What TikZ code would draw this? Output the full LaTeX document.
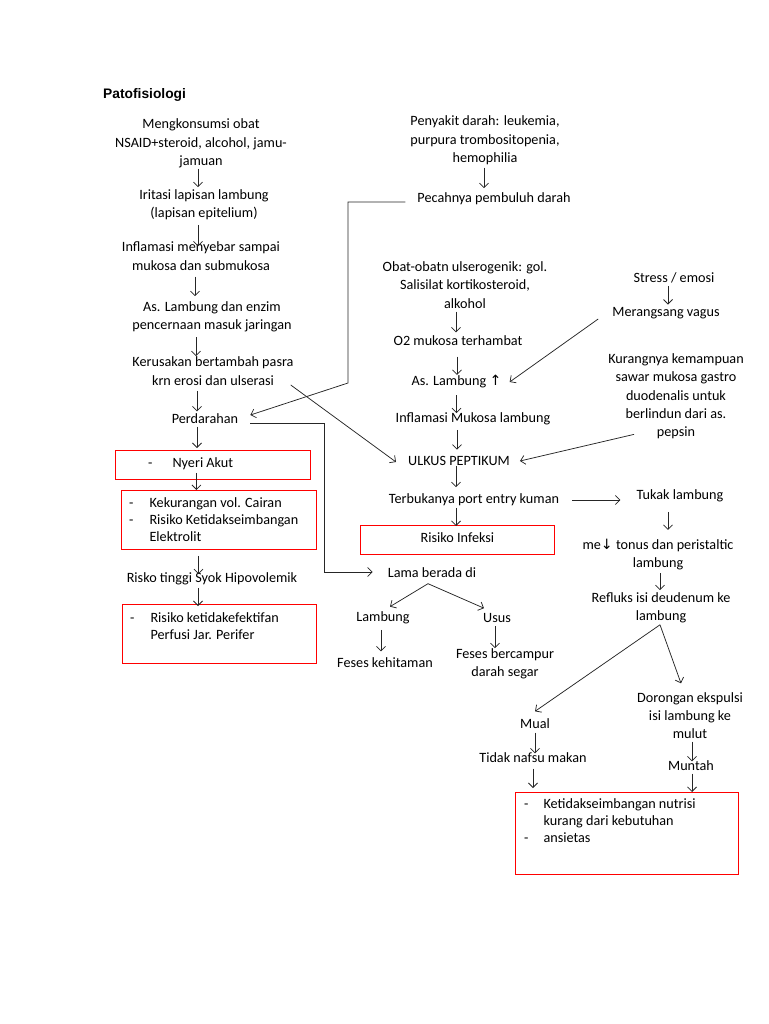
\documentclass[tikz,border=0pt]{standalone}
\usepackage{fontspec}
\setmainfont{Carlito}
\newfontfamily\titlefont{Liberation Sans}
\newfontfamily\arrowfont{DejaVu Sans}
\usepackage{tikz}
\usetikzlibrary{arrows.meta,positioning,calc}

\begin{document}
\begin{tikzpicture}[x=1pt,y=-1pt,
    txt/.style={align=center,inner sep=1pt,font=\fontsize{14.2}{18.3}\selectfont},
    boxtxt/.style={inner sep=0pt,font=\fontsize{14.2}{17}\selectfont},
    redbox/.style={draw=red,line width=0.9pt,inner sep=0pt},
    arr/.style={draw=black!85,line width=0.75pt,-{Straight Barb[length=4.5pt,width=9pt]}}]
    \useasboundingbox (0,0) rectangle (768,1024);
    \node[anchor=west,inner sep=0pt,font=\titlefont\bfseries\fontsize{13.8}{16}\selectfont] (judul) at (103,95) {Patofisiologi};
    % Left column
    \node[txt] (obat) at (201,143.5) {Mengkonsumsi obat\\NSAID+steroid, alcohol, jamu-\\jamuan};
    \node[txt] (iritasi) at (204,204.5) {Iritasi lapisan lambung\\(lapisan epitelium)};
    \node[txt] (inflam) at (201,256) {Inflamasi menyebar sampai\\mukosa dan submukosa};
    \node[txt] (asam) at (212,316.5) {As. Lambung dan enzim\\pencernaan masuk jaringan};
    \node[txt] (rusak) at (213,371) {Kerusakan bertambah pasra\\krn erosi dan ulserasi};
    \node[txt] (darah) at (205,419) {Perdarahan};
    \node[redbox,anchor=north west,minimum width=195pt,minimum height=29pt] (nyeri) at (115,450) {};
    \node[boxtxt,anchor=west] (nyerit) at ([xshift=33,yshift=0.5]nyeri.west)
        {\begin{tabular}{@{}l@{\hspace{20pt}}l@{}}-&Nyeri Akut\end{tabular}};
    \node[redbox,anchor=north west,minimum width=195pt,minimum height=59pt] (cairan) at (121,490) {};
    \node[boxtxt,anchor=north west] (cairant) at ([xshift=8,yshift=-5.5]cairan.north west)
        {\begin{tabular}{@{}l@{\hspace{16pt}}l@{}}-&Kekurangan vol. Cairan\\-&Risiko Ketidakseimbangan\\&Elektrolit\end{tabular}};
    \node[txt] (syok) at (212,579) {Risko tinggi Syok Hipovolemik};
    \node[redbox,anchor=north west,minimum width=194pt,minimum height=59pt] (perfusi) at (122,604) {};
    \node[boxtxt,anchor=north west] (perfusit) at ([xshift=8,yshift=-6.5]perfusi.north west)
        {\begin{tabular}{@{}l@{\hspace{16pt}}l@{}}-&Risiko ketidakefektifan\\&Perfusi Jar. Perifer\end{tabular}};
    % Middle column
    \node[txt] (penyakit) at (485,140.5) {Penyakit darah: leukemia,\\purpura trombositopenia,\\hemophilia};
    \node[txt] (pecah) at (494,198.5) {Pecahnya pembuluh darah};
    \node[txt] (ulsero) at (465,285) {Obat-obatn ulserogenik: gol.\\Salisilat kortikosteroid,\\alkohol};
    \node[txt] (oksigen) at (458,341) {O2 mukosa terhambat};
    \node[txt] (asnaik) at (456.5,382) {As. Lambung {\arrowfont↑}};
    \node[txt] (inflmuk) at (473,419) {Inflamasi Mukosa lambung};
    \node[txt] (ulkus) at (459,461) {ULKUS PEPTIKUM};
    \node[txt] (port) at (474,500) {Terbukanya port entry kuman};
    \node[redbox,anchor=north west,minimum width=194pt,minimum height=29pt] (infeksi) at (360,525) {};
    \node[txt] (infeksit) at ([yshift=2]infeksi.center) {Risiko Infeksi};
    \node[txt] (lama) at (432,573) {Lama berada di};
    \node[txt] (lambung) at (383,618) {Lambung};
    \node[txt] (usus) at (497,618) {Usus};
    \node[txt] (hitam) at (385,663) {Feses kehitaman};
    \node[txt] (segar) at (505,664) {Feses bercampur\\darah segar};
    % Right column
    \node[txt] (stress) at (674,278) {Stress / emosi};
    \node[txt] (vagus) at (666,313.5) {Merangsang vagus};
    \node[txt] (sawar) at (676,396.5) {Kurangnya kemampuan\\sawar mukosa gastro\\duodenalis untuk\\berlindun dari as.\\pepsin};
    \node[txt] (tukak) at (680,496) {Tukak lambung};
    \node[txt] (tonus) at (658,554.5) {me{\arrowfont↓} tonus dan peristaltic\\lambung};
    \node[txt] (refluks) at (661,608) {Refluks isi deudenum ke\\lambung};
    \node[txt] (mual) at (535,724) {Mual};
    \node[txt] (nafsu) at (533,758) {Tidak nafsu makan};
    \node[txt] (dorong) at (690,715.5) {Dorongan ekspulsi\\isi lambung ke\\mulut};
    \node[txt] (muntah) at (691,766) {Muntah};
    \node[redbox,anchor=north west,minimum width=223pt,minimum height=82pt] (nutrisi) at (515,792) {};
    \node[boxtxt,anchor=north west] (nutrisit) at ([xshift=9,yshift=-4.5]nutrisi.north west)
        {\begin{tabular}{@{}l@{\hspace{15pt}}l@{}}-&Ketidakseimbangan nutrisi\\&kurang dari kebutuhan\\-&ansietas\end{tabular}};
    % Short down arrows: from/to/xshift/shorten start/shorten end
    \foreach \a/\b/\s/\p/\q in {obat/iritasi/-3/-0.5/1, iritasi/inflam/-6/4/-5.7,
        inflam/asam/-6/5.3/3.8, asam/rusak/-16/4/-0.5, rusak/darah/-16/4.5/1.5,
        darah/nyeri/-8/1.5/2, nyeri/cairan/-16.5/-7/0, cairan/syok/-20.5/6/-2.5,
        syok/perfusi/-14/1.5/-2, penyakit/pecah/-1/1.5/3, ulsero/oksigen/-9/2.2/2.5,
        oksigen/asnaik/-1/9.5/-0.5, asnaik/inflmuk/0/5.5/-1.5, inflmuk/ulkus/-16/3.5/5.5,
        ulkus/port/-3/-1/5.5, port/infeksi/-18/0.5/-1, lambung/hitam/-2/4.5/5.5,
        usus/segar/-2/2.5/-0.7, stress/vagus/-6/1.5/2, tukak/tonus/-12/8.5/7.8,
        tonus/refluks/2/1.8/1.3, mual/nafsu/0/2.5/-1.5, nafsu/nutrisi/0/4.5/4,
        dorong/muntah/2/1.7/-1.5, muntah/nutrisi/1/1.5/0} {
        \draw[arr,shorten <=\p,shorten >=\q] ([xshift=\s]\a.south) -- ([xshift=\s]\a.south |- \b.north);
    }
    % Long connectors
    \coordinate (tekuk1) at (348,383);
    \coordinate (tekuk2) at (324,572);
    \draw[arr] ([xshift=-11,yshift=-3.5]pecah.west) -| (tekuk1) -- ([xshift=11,yshift=4]darah.east);
    \draw[arr] ([xshift=11,yshift=-4]darah.east) -| (tekuk2) -- ([xshift=-14]lama.west |- tekuk2);
    \draw[arr] ([xshift=-4,yshift=-14]rusak.east) -- ([xshift=-11,yshift=-1]ulkus.west);
    \draw[arr] ([xshift=-13,yshift=-5.5]vagus.west) -- ([xshift=7]asnaik.east);
    \draw[arr] ([xshift=-42,yshift=6]sawar.south) -- ([xshift=9]ulkus.east);
    \draw[arr] ([xshift=12]port.east) -- ([xshift=-15]tukak.west |- port.east);
    \draw[arr] ([xshift=-4,yshift=-4.5]lama.south) -- ([xshift=7,yshift=4]lambung.north);
    \draw[arr] ([xshift=-4,yshift=-4.5]lama.south) -- ([xshift=-13,yshift=4]usus.north);
    \draw[arr] ([xshift=-1,yshift=-0.3]refluks.south) -- ([yshift=6.5]mual.north);
    \draw[arr] ([xshift=-1,yshift=-0.3]refluks.south) -- ([xshift=-9,yshift=7.7]dorong.north);
\end{tikzpicture}
\end{document}
